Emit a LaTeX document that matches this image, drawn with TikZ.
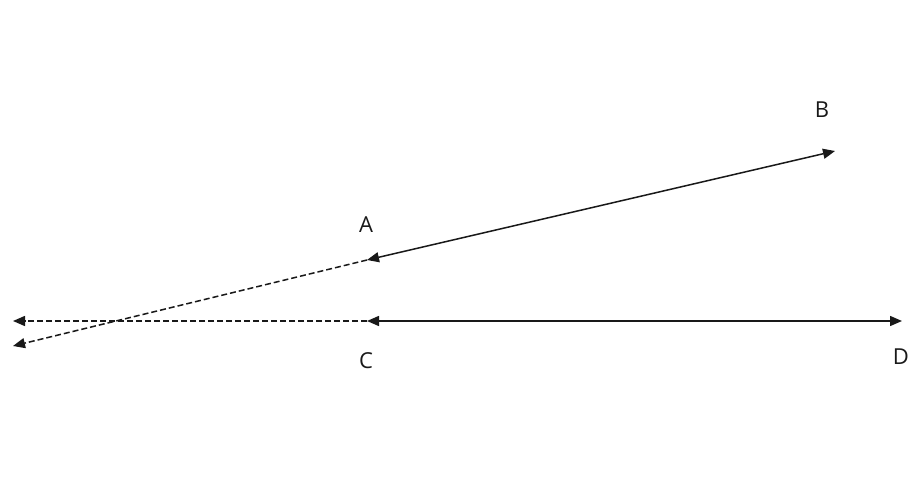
\documentclass[tikz,border=0pt]{standalone}
\usepackage{fontspec}
\setmainfont{Open Sans}
\usetikzlibrary{arrows.meta}
\begin{document}
\begin{tikzpicture}[x=1pt,y=-1pt,
  ln/.style={line width=1.5pt, draw=black!90},
  tip/.style={-{Triangle[length=12pt,width=10pt]}},
  dtip/.style={{Triangle[length=12pt,width=10pt]}-{Triangle[length=12pt,width=10pt]}},
  dsh/.style={dash pattern=on 6pt off 3pt},
  lab/.style={font=\fontsize{22}{26}\selectfont, text=black!90, inner sep=0pt}]
\useasboundingbox[fill=white] (0,0) rectangle (917,502);
\coordinate (A) at (367,260);
\coordinate (B) at (835,151);
\coordinate (C) at (367,321);
\coordinate (D) at (902,321);
\coordinate (L1) at (13,321);
\coordinate (L2) at (13,346);
\draw[ln,dtip] (A) -- (B);
\draw[ln,dtip] (C) -- (D);
\draw[ln,dsh,tip] (A) -- (L2);
\draw[ln,dsh,tip] (C) -- (L1);
\node[lab] (lA) at (366,225) {A};
\node[lab] (lB) at (822,110) {B};
\node[lab] (lC) at (366,361) {C};
\node[lab] (lD) at (901,357) {D};
\end{tikzpicture}
\end{document}
